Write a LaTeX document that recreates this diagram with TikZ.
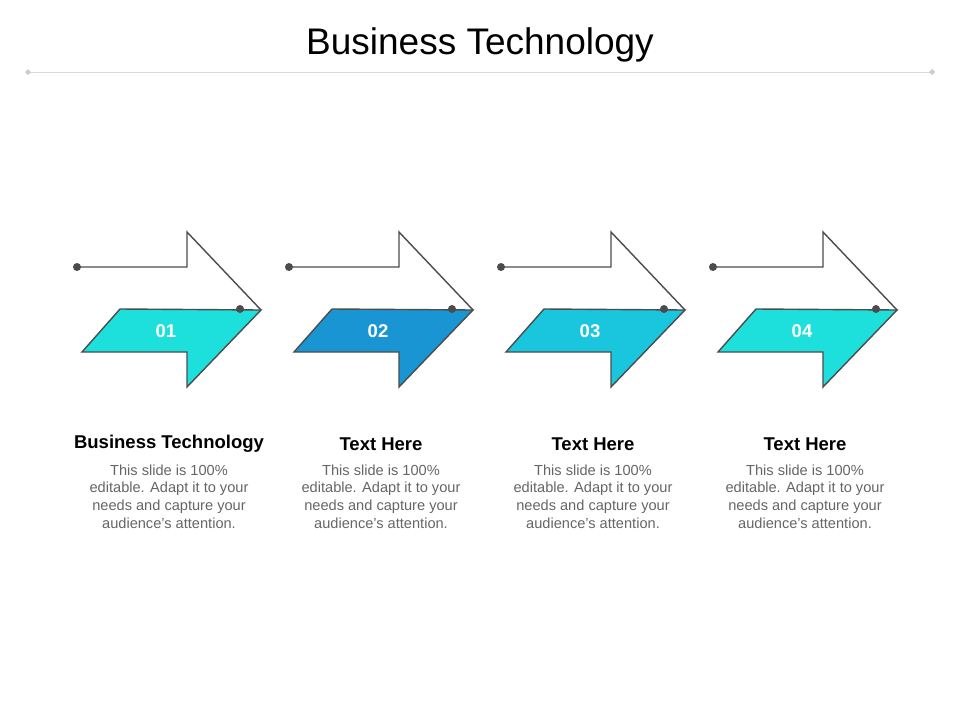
\documentclass[tikz,border=0pt]{standalone}
\usepackage{fontspec}
\setmainfont{Liberation Sans}
\begin{document}
\begin{tikzpicture}[x=1pt,y=-1pt,
  outl/.style={draw=black!70,line width=1.4pt,line join=miter},
  dotc/.style={circle,fill=black!70,inner sep=0pt,minimum size=8pt},
  num/.style={text=white,font=\bfseries\fontsize{18.5}{22}\selectfont},
  head/.style={font=\bfseries\fontsize{18.5}{22}\selectfont,text=black},
  body/.style={font=\fontsize{14.6}{17.7}\selectfont,text=black!60,align=center}]
\fill[white] (0,0) rectangle (960,720);
\useasboundingbox (0,0) rectangle (960,720);
\node (title) at (480,45) {\fontsize{37}{42}\selectfont Business Technology};
\coordinate (la) at (28,72); \coordinate (lb) at (932,72);
\draw[black!15,line width=0.8pt] (la) -- (lb);
\fill[black!20] (la) +(-3,0) -- +(0,-3) -- +(3,0) -- +(0,3) -- cycle;
\fill[black!20] (lb) +(-3,0) -- +(0,-3) -- +(3,0) -- +(0,3) -- cycle;
\foreach \i/\c/\n/\h in {0/1DE0DC/01/Business Technology,1/1A95D4/02/Text Here,2/1AC6DE/03/Text Here,3/1DE0DC/04/Text Here}{
  \definecolor{cc}{HTML}{\c}
  \begin{scope}[xshift=\i*212]
    \draw[outl,fill=cc] (120,309) -- (261,310) -- (187,387) -- (187,352) -- (82,352) -- cycle;
    \draw[outl] (77,267) -- (187,267) -- (187,232) -- (261,310);
    \node[dotc] (s\i) at (77,267) {};
    \node[dotc] (e\i) at (240,309) {};
    \node[num] (n\i) at (166,331) {\n};
    \node[head] (h\i) at (169,444) {\h};
    \node[body,anchor=north] (b\i) at (169,461) {This slide is 100\%\\editable. Adapt it to your\\needs and capture your\\audience's attention.};
  \end{scope}
}
\end{tikzpicture}
\end{document}
